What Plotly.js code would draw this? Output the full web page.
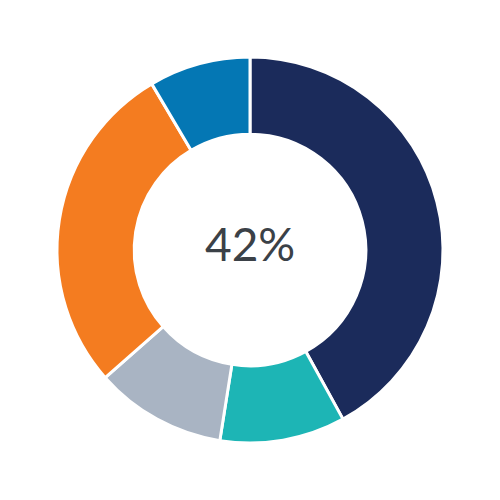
<!DOCTYPE html>
<html>
<head>
<meta charset="utf-8">
<script src="https://cdn.plot.ly/plotly-3.0.1.min.js"></script>
<style>
  html, body { margin: 0; padding: 0; background: #fff; }
  #chart { width: 500px; height: 500px; }
</style>
</head>
<body>
<div id="chart"></div>
<script>
// slices, clockwise from 12 o'clock
var labels = ["A", "B", "C", "D", "E"];
var values = [42, 10.5, 11, 28, 8.5];
var colors = ["#1b2b5b", "#1db5b5", "#a9b4c3", "#f47c20", "#0477b4"];
var centerText = "42%";

var trace = {
  type: "pie",
  labels: labels,
  values: values,
  hole: 0.6,
  sort: false,
  direction: "clockwise",
  rotation: 0,
  textinfo: "none",
  hoverinfo: "label+percent",
  marker: { colors: colors, line: { color: "#ffffff", width: 3 } }
};

var layout = {
  width: 500,
  height: 500,
  margin: { l: 57, r: 57, t: 57, b: 57 },
  showlegend: false,
  paper_bgcolor: "#ffffff",
  annotations: [{
    text: centerText,
    x: 0.5, y: 0.5, xref: "paper", yref: "paper",
    yshift: 7,
    showarrow: false,
    font: { family: "Lato, sans-serif", size: 46, color: "#3b4147" }
  }]
};

Plotly.newPlot("chart", [trace], layout, { displayModeBar: false });
</script>
</body>
</html>
